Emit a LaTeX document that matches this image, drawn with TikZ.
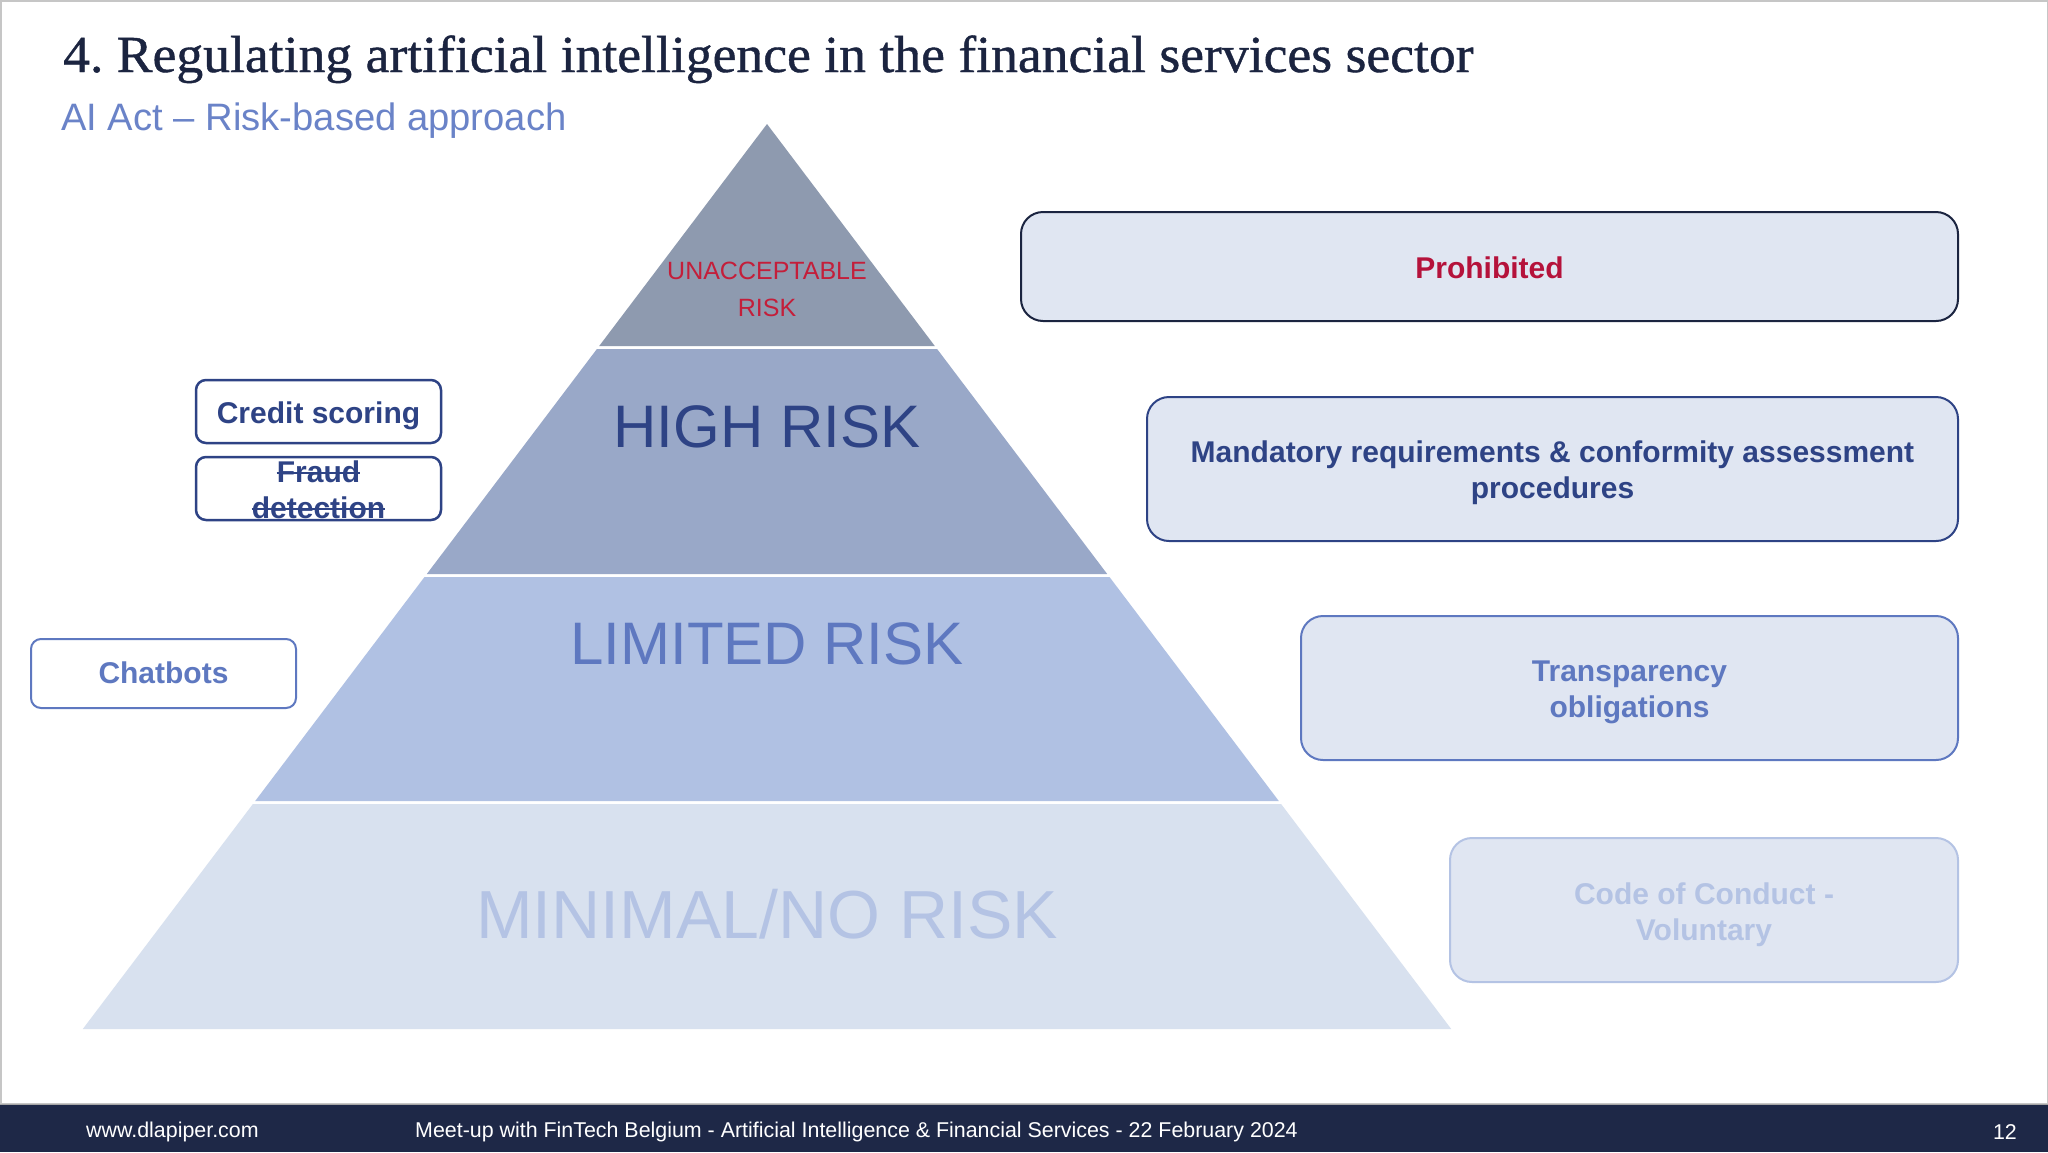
\documentclass[tikz,border=0pt]{standalone}
\usepackage{fontspec}
\setmainfont{Liberation Sans}
\newfontfamily\titlefont[FakeBold=0.8]{Liberation Serif}
\usepackage{graphicx}
\definecolor{tierA}{HTML}{8E9AAF}
\definecolor{tierB}{HTML}{99A8C8}
\definecolor{tierC}{HTML}{B0C1E3}
\definecolor{tierD}{HTML}{D8E1EF}
\definecolor{navy}{HTML}{1B2440}
\definecolor{dblue}{HTML}{2E4385}
\definecolor{mblue}{HTML}{5E78C0}
\definecolor{lblue}{HTML}{B4C3E4}
\definecolor{subblue}{HTML}{6A83C8}
\definecolor{redA}{HTML}{C41E3A}
\definecolor{redB}{HTML}{B5123B}
\definecolor{boxfill}{HTML}{E0E6F2}
\definecolor{footbg}{HTML}{1E2847}
\begin{document}
\frenchspacing
\begin{tikzpicture}[x=1pt,y=-1pt,
  rbox/.style={draw, rounded corners=22pt, line width=2pt, fill=boxfill, inner sep=0pt},
  sbox/.style={draw, rounded corners=10pt, line width=2.5pt, fill=white, inner sep=0pt},
  btext/.style={inner sep=0pt, align=center, font=\fontsize{30}{36}\selectfont\bfseries},
  striketext/.style={inner sep=0pt, anchor=base, text=dblue, font=\fontsize{30}{36}\selectfont\bfseries},
  tierlabel/.style={inner sep=0pt, font=\fontsize{60}{64}\selectfont},
  foottext/.style={inner sep=0pt, text=white, font=\fontsize{21.4}{24}\selectfont}]
\useasboundingbox (0,0) rectangle (2048,1152);
\fill[white] (0,0) rectangle (2048,1152);
\draw[gray!45, line width=1.5pt] (0.75,0.75) rectangle (2047.25,1104);

% title
\node[anchor=base west, inner sep=0pt, text=navy] (title) at (63,72)
  {\resizebox{1410pt}{\height}{\titlefont\fontsize{52}{60}\selectfont 4. Regulating artificial intelligence in the financial services sector}};
\node[anchor=base west, inner sep=0pt, text=subblue, font=\fontsize{38.2}{44}\selectfont] (subtitle) at (61,130)
  {AI Act -- Risk-based approach};

% pyramid
\fill[tierA] (767,124) -- (934.8,346) -- (599.2,346) -- cycle;
\fill[tierB] (596.9,349) -- (937.1,349) -- (1107.2,574) -- (426.8,574) -- cycle;
\fill[tierC] (424.5,577) -- (1109.5,577) -- (1278.8,801) -- (255.2,801) -- cycle;
\fill[tierD] (252.9,804) -- (1281.1,804) -- (1451.2,1029) -- (82.8,1029) -- cycle;

\node[inner sep=0pt, align=center, text=redA, font=\fontsize{25}{37}\selectfont] (unacc) at (767,289.5) {UNACCEPTABLE\\RISK};
\node[tierlabel, text=dblue] (high) at (767,427) {HIGH RISK};
\node[tierlabel, text=mblue] (limited) at (767,644) {LIMITED RISK};
\node[tierlabel, text=lblue, font=\fontsize{68}{72}\selectfont] (minimal) at (767,914) {MINIMAL/NO RISK};

% right boxes
\node[rbox, draw=navy, minimum width=937pt, minimum height=109pt] (prohib) at (1489.5,266.5) {};
\node[btext, text=redB, yshift=-1.5pt] (prohibT) at (prohib.center) {Prohibited};
\node[rbox, draw=dblue, minimum width=811pt, minimum height=144pt] (mand) at (1552.5,469) {};
\node[btext, text=dblue, yshift=-4pt] (mandT) at (mand.center) {Mandatory requirements \& conformity assessment\\procedures};
\node[rbox, draw=mblue, minimum width=657pt, minimum height=144pt] (transp) at (1629.5,688) {};
\node[btext, text=mblue, yshift=-4.5pt] (transpT) at (transp.center) {Transparency\\obligations};
\node[rbox, draw=lblue, minimum width=508pt, minimum height=144pt] (code) at (1704,910) {};
\node[btext, text=lblue, yshift=-4.5pt] (codeT) at (code.center) {Code of Conduct -\\Voluntary};

% left boxes
\node[sbox, draw=dblue, minimum width=245pt, minimum height=63pt] (credit) at (318.5,411.5) {};
\node[btext, text=dblue, yshift=-4.5pt] (creditT) at (credit.center) {Credit scoring};
\node[sbox, draw=dblue, minimum width=245pt, minimum height=63pt] (fraudbox) at (318.5,488.5) {};
\node[striketext] (fraudA) at (318.5,482) {Fraud};
\node[striketext] (fraudB) at (318.5,518) {detection};
\draw[dblue, line width=2.5pt] ([yshift=9pt]fraudA.base west) -- ([yshift=9pt]fraudA.base east);
\draw[dblue, line width=2.5pt] ([yshift=9pt]fraudB.base west) -- ([yshift=9pt]fraudB.base east);
\node[sbox, draw=mblue, line width=2pt, minimum width=265pt, minimum height=69pt] (chat) at (163.5,673.5) {};
\node[btext, text=mblue, yshift=0.3pt] (chatT) at (chat.center) {Chatbots};

% footer
\fill[footbg] (0,1105) rectangle (2048,1152);
\draw[gray!70, line width=1.5pt] (0,1104.5) -- (2048,1104.5);
\node[foottext, anchor=west] (url) at (86,1132) {www.dlapiper.com};
\node[foottext, anchor=west] (event) at (415,1132) {Meet-up with FinTech Belgium - Artificial Intelligence \& Financial Services - 22 February 2024};
\node[foottext, anchor=east] (page) at (2017,1132) {12};
\end{tikzpicture}
\end{document}
